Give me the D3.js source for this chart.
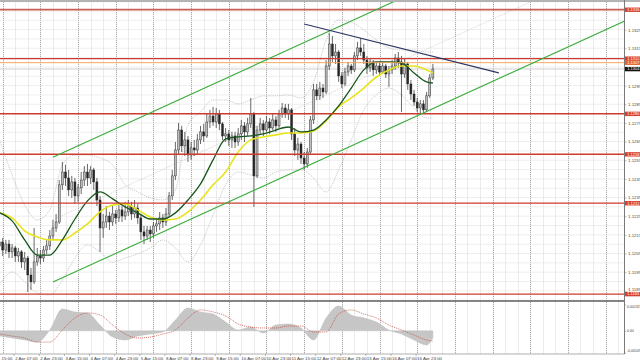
<!DOCTYPE html>
<html>
<head>
<meta charset="utf-8">
<script src="https://cdnjs.cloudflare.com/ajax/libs/d3/7.8.5/d3.min.js"></script>
<style>
  body { margin: 0; background: #fff; }
  #chart-area svg { display: block; font-family: "Liberation Sans", Arial, sans-serif; }
</style>
</head>
<body>
<div id="chart-area"></div>
<script>
// EURUSD, 2h candles. bar i sits at hour 2*i-2 (hour 0 = 2 Apr 00:00)
var firstOpen = 1.12090;

var closes = [1.12112,1.12069,1.12101,1.12059,1.12080,1.12037,1.12059,1.12005,1.12026,1.11935,
  1.11898,1.12005,1.12037,1.12026,1.12069,1.12091,1.12144,1.12187,1.12219,1.12418,
  1.12487,1.12455,1.12391,1.12434,1.12359,1.12402,1.12444,1.12487,1.12455,1.12498,
  1.12434,1.12337,1.12187,1.12219,1.12251,1.12219,1.12262,1.12241,1.12284,1.12251,
  1.12273,1.12305,1.12262,1.12294,1.12241,1.12166,1.12144,1.12176,1.12155,1.12198,
  1.12209,1.12241,1.12219,1.12262,1.12359,1.12466,1.12605,1.12712,1.12627,1.12659,
  1.12578,1.12616,1.12605,1.12659,1.12702,1.12680,1.12755,1.12787,1.12755,1.12798,
  1.12745,1.12680,1.12691,1.12659,1.12680,1.12648,1.12691,1.12734,1.12702,1.12745,
  1.12798,1.12466,1.12712,1.12745,1.12712,1.12755,1.12723,1.12766,1.12734,1.12798,
  1.12830,1.12798,1.12820,1.12691,1.12605,1.12637,1.12562,1.12530,1.12594,1.12766,
  1.12927,1.12895,1.12937,1.12916,1.13055,1.13173,1.13109,1.13130,1.13002,1.12959,
  1.13023,1.13055,1.13034,1.13109,1.13152,1.13130,1.13087,1.13045,1.13077,1.13034,
  1.13055,1.13023,1.13055,1.13012,1.13034,1.13055,1.13098,1.13077,1.13012,1.13066,
  1.12959,1.12905,1.12862,1.12830,1.12852,1.12820,1.12895,1.12991,1.13039];

var highs = [1.12166,1.12134,1.12123,1.12123,1.12101,1.12091,1.12080,1.12069,1.12059,1.12037,
  1.11973,1.12187,1.12080,1.12069,1.12091,1.12123,1.12176,1.12230,1.12262,1.12444,
  1.12541,1.12525,1.12498,1.12466,1.12455,1.12423,1.12487,1.12519,1.12530,1.12519,
  1.12509,1.12455,1.12359,1.12262,1.12305,1.12273,1.12305,1.12284,1.12316,1.12305,
  1.12327,1.12337,1.12327,1.12337,1.12316,1.12262,1.12198,1.12198,1.12198,1.12219,
  1.12241,1.12273,1.12262,1.12294,1.12380,1.12498,1.12648,1.12750,1.12734,1.12702,
  1.12680,1.12648,1.12659,1.12691,1.12734,1.12745,1.12798,1.12820,1.12836,1.12830,
  1.12820,1.12755,1.12723,1.12712,1.12702,1.12702,1.12723,1.12766,1.12755,1.12777,
  1.12884,1.12809,1.12734,1.12777,1.12766,1.12787,1.12777,1.12798,1.12787,1.12820,
  1.12857,1.12852,1.12852,1.12830,1.12723,1.12670,1.12648,1.12594,1.12616,1.12787,
  1.12959,1.12959,1.12970,1.12959,1.13087,1.13232,1.13216,1.13173,1.13141,1.13023,
  1.13045,1.13077,1.13066,1.13130,1.13184,1.13205,1.13173,1.13109,1.13098,1.13087,
  1.13077,1.13077,1.13077,1.13066,1.13055,1.13087,1.13120,1.13130,1.13109,1.13098,
  1.13077,1.12980,1.12927,1.12884,1.12873,1.12873,1.12916,1.13012,1.13066];

var lows = [1.12069,1.12037,1.12048,1.12026,1.12026,1.12005,1.12005,1.11973,1.11962,1.11844,
  1.11855,1.11887,1.11984,1.11994,1.12005,1.12048,1.12069,1.12123,1.12166,1.12209,
  1.12391,1.12412,1.12359,1.12348,1.12316,1.12327,1.12369,1.12412,1.12412,1.12423,
  1.12391,1.12305,1.12059,1.12134,1.12187,1.12176,1.12198,1.12209,1.12219,1.12219,
  1.12230,1.12251,1.12230,1.12241,1.12209,1.12123,1.12101,1.12123,1.12112,1.12134,
  1.12166,1.12176,1.12187,1.12198,1.12251,1.12337,1.12444,1.12584,1.12594,1.12573,
  1.12541,1.12552,1.12573,1.12584,1.12637,1.12648,1.12670,1.12723,1.12734,1.12723,
  1.12712,1.12659,1.12648,1.12627,1.12616,1.12616,1.12627,1.12659,1.12648,1.12680,
  1.12723,1.12300,1.12455,1.12691,1.12680,1.12702,1.12691,1.12712,1.12702,1.12723,
  1.12777,1.12777,1.12766,1.12659,1.12573,1.12552,1.12530,1.12498,1.12509,1.12584,
  1.12745,1.12873,1.12873,1.12884,1.12905,1.13034,1.13077,1.13066,1.12970,1.12937,
  1.12948,1.13002,1.13012,1.13023,1.13087,1.13109,1.13066,1.13012,1.13023,1.13002,
  1.13012,1.13002,1.13012,1.12991,1.12943,1.13012,1.13034,1.13045,1.12809,1.12991,
  1.12927,1.12873,1.12841,1.12809,1.12803,1.12798,1.12809,1.12884,1.12980];

// indicator readings, taken every 4th bar
var sampleBars = [0,4,8,12,16,20,24,28,32,36,40,44,48,52,56,60,64,68,72,76,80,84,88,92,96,100,104,108,112,116,120,124,128,132,136,138];

var fastMA = [1.12268,1.12225,1.12123,1.12042,1.12042,1.12123,1.12235,1.12332,1.12380,1.12343,1.12300,1.12268,1.12235,1.12235,1.12268,1.12337,1.12423,1.12552,1.12664,1.12675,1.12680,1.12691,1.12712,1.12728,1.12702,1.12712,1.12766,1.12841,1.12937,1.13034,1.13077,1.13077,1.13071,1.13018,1.12970,1.12964];
var slowMA = [1.12268,1.12241,1.12171,1.12139,1.12123,1.12123,1.12160,1.12209,1.12273,1.12310,1.12316,1.12284,1.12246,1.12230,1.12235,1.12273,1.12337,1.12418,1.12487,1.12594,1.12659,1.12675,1.12686,1.12696,1.12696,1.12707,1.12761,1.12836,1.12884,1.12937,1.12996,1.13034,1.13055,1.13055,1.13034,1.13018];
var bbUpper = [1.12659,1.12471,1.12310,1.12230,1.12284,1.12525,1.12578,1.12578,1.12562,1.12525,1.12418,1.12380,1.12348,1.12337,1.12391,1.12739,1.12809,1.12873,1.12873,1.12852,1.12873,1.12895,1.12895,1.12900,1.12884,1.12970,1.13195,1.13302,1.13291,1.13248,1.13195,1.13152,1.13141,1.13141,1.13130,1.13130];
var bbLower = [1.11882,1.11951,1.11898,1.11839,1.11828,1.11909,1.12026,1.12096,1.12059,1.12005,1.12026,1.12048,1.12080,1.12123,1.12080,1.12005,1.12096,1.12257,1.12418,1.12487,1.12471,1.12455,1.12487,1.12498,1.12498,1.12455,1.12380,1.12498,1.12659,1.12820,1.12900,1.12937,1.12900,1.12830,1.12777,1.12777];
var macdHist = [-0.00026,-0.00036,-0.00046,-0.00056,0.00004,0.00109,0.00094,0.00089,0.00029,-0.00031,-0.00046,-0.00026,-0.00016,-0.00006,0.00054,0.00114,0.00094,0.00084,0.00044,0.00004,0.00019,-0.00011,0.00029,0.00034,0.00014,-0.00046,0.00064,0.00124,0.00079,0.00064,0.00044,0.00004,-0.00016,-0.00046,-0.00071,-0.00036];
var macdSignal = [-0.00016,-0.00026,-0.00036,-0.00056,-0.00056,0.00004,0.00064,0.00089,0.00079,0.00029,-0.00016,-0.00036,-0.00031,-0.00016,0.00004,0.00064,0.00104,0.00094,0.00074,0.00034,0.00019,0.00014,0.00014,0.00024,0.00024,-0.00006,-0.00006,0.00084,0.00104,0.00084,0.00064,0.00029,0.00004,-0.00021,-0.00046,-0.00051];

// time axis: first label at hour -9, then every 16 hours
var timeLabels = ["1 Apr 15:00","2 Apr 07:00","2 Apr 23:00","3 Apr 15:00","4 Apr 07:00","4 Apr 23:00",
  "5 Apr 15:00","8 Apr 07:00","8 Apr 23:00","9 Apr 15:00","10 Apr 07:00","10 Apr 23:00",
  "11 Apr 15:00","12 Apr 07:00","12 Apr 23:00","15 Apr 15:00","16 Apr 07:00","16 Apr 23:00"];

// 1.1305 sits under the bid tag, so it is not listed
var priceTicks = [1.1185,1.1195,1.1205,1.1215,1.1225,1.1235,1.1245,1.1255,1.1265,1.1275,1.1285,1.1295,1.1315,1.1325];
var macdTicks = [0.00132, 0, -0.00109];
var macdTickText = ["0.00132", "0.00", "-0.00109"];

// horizontal levels drawn on the chart
var levelPrices = [1.13357, 1.13095, 1.12799, 1.12582, 1.12320, 1.11833];
var levelText = ["1.1336", "1.1310", "1.1280", "1.1258", "1.1232", "1.1183"];
var pivotPrice = 1.13073, pivotText = "1.1307";
var bidPrice = 1.13039, bidText = "1.1304";

// trendlines as [bar, price] pairs
var channelUpper = [[17, 1.12566], [140, 1.13511]];
var channelLower = [[17, 1.11897], [200, 1.13303]];
var channelMid   = [[17, 1.12232], [200, 1.13636]];
var resistLine   = [[97, 1.13280], [159, 1.13018]];


candleChart = function(_parentElement){
    this.parentElement = _parentElement;
    this.initVis();
}

candleChart.prototype.initVis = function(){
    var vis = this;

    vis.width = 640;
    vis.height = 360;
    vis.plotRight = 624.5;
    vis.mainTop = 2;
    vis.mainBottom = 300;
    vis.macdBottom = 354;

    vis.svg = d3.select("#" + vis.parentElement).append("svg")
        .attr("width", vis.width)
        .attr("height", vis.height);

    // hours -> px (about 1.57px per hour)
    vis.x = d3.scaleLinear().domain([0, 100]).range([2.7, 159.7]);
    vis.y = d3.scaleLinear().domain([1.11801, 1.13398]).range([vis.mainBottom, vis.mainTop]);
    vis.yMacd = d3.scaleLinear().domain([-0.00109, 0.00132]).range([352.7, 304.3]);

    var barX = function(i){ return vis.x(2 * i - 2); };

    vis.svg.append("defs").append("clipPath").attr("id", "clip-main")
        .append("rect").attr("x", 0).attr("y", vis.mainTop)
        .attr("width", vis.plotRight).attr("height", vis.mainBottom - vis.mainTop);
    vis.svg.select("defs").append("clipPath").attr("id", "clip-macd")
        .append("rect").attr("x", 0).attr("y", 302)
        .attr("width", vis.plotRight).attr("height", vis.macdBottom - 302);

    // grid
    var grid = vis.svg.append("g");
    var hMax = vis.x.invert(vis.plotRight);
    grid.selectAll(".vgrid").data(d3.range(-8, hMax, 8)).enter().append("line")
        .attr("x1", function(d){ return Math.round(vis.x(d)) + 0.5; })
        .attr("x2", function(d){ return Math.round(vis.x(d)) + 0.5; })
        .attr("y1", vis.mainTop).attr("y2", vis.macdBottom)
        .attr("stroke", "#e3e3e3").attr("stroke-width", 0.7);
    grid.selectAll(".dgrid").data(d3.range(0, hMax, 24)).enter().append("line")
        .attr("x1", function(d){ return Math.round(vis.x(d)) + 0.5; })
        .attr("x2", function(d){ return Math.round(vis.x(d)) + 0.5; })
        .attr("y1", vis.mainTop).attr("y2", vis.macdBottom)
        .attr("stroke", "#9a9a9a").attr("stroke-width", 0.8)
        .attr("stroke-dasharray", "1,1");
    grid.selectAll(".hgrid").data(d3.range(1.1180, 1.1341, 0.0005)).enter().append("line")
        .attr("x1", 0).attr("x2", vis.plotRight)
        .attr("y1", function(d){ return vis.y(d); })
        .attr("y2", function(d){ return vis.y(d); })
        .attr("stroke", "#e6e6e6").attr("stroke-width", 0.7);

    var main = vis.svg.append("g").attr("clip-path", "url(#clip-main)");

    // bid line
    main.append("line")
        .attr("x1", 0).attr("x2", vis.plotRight)
        .attr("y1", vis.y(bidPrice)).attr("y2", vis.y(bidPrice))
        .attr("stroke", "#cfcfcf").attr("stroke-width", 1);

    // bollinger bands
    var sampleLine = d3.line()
        .x(function(d, k){ return barX(sampleBars[k]); })
        .y(function(d){ return vis.y(d); })
        .curve(d3.curveMonotoneX);

    [bbUpper, bbLower].forEach(function(band){
        main.append("path").attr("d", sampleLine(band))
            .attr("fill", "none").attr("stroke", "#a8a8a8")
            .attr("stroke-width", 0.6).attr("stroke-dasharray", "1.2,1");
    });

    // channel midline (dotted, light)
    var trend = d3.line()
        .x(function(d){ return barX(d[0]); })
        .y(function(d){ return vis.y(d[1]); });

    main.append("path").attr("d", trend(channelMid))
        .attr("fill", "none").attr("stroke", "#b9b9b9")
        .attr("stroke-width", 0.6).attr("stroke-dasharray", "1,1");

    // candles
    var bars = closes.map(function(c, i){
        var o = i === 0 ? firstOpen : closes[i - 1];
        return {i: i, o: o, c: c,
            h: Math.max(highs[i], o, c), l: Math.min(lows[i], o, c)};
    });

    var candle = main.append("g").selectAll("g")
        .data(bars).enter().append("g");

    candle.append("line")
        .attr("x1", function(d){ return barX(d.i); })
        .attr("x2", function(d){ return barX(d.i); })
        .attr("y1", function(d){ return vis.y(d.h); })
        .attr("y2", function(d){ return vis.y(d.l); })
        .attr("stroke", "#2a2a2a").attr("stroke-width", 0.7);

    candle.append("rect")
        .attr("x", function(d){ return barX(d.i) - 1; })
        .attr("width", 2)
        .attr("y", function(d){ return vis.y(Math.max(d.o, d.c)); })
        .attr("height", function(d){ return Math.max(0.7, Math.abs(vis.y(d.o) - vis.y(d.c))); })
        .attr("fill", function(d){ return d.c >= d.o ? "#bdbdbd" : "#262626"; })
        .attr("stroke", "#2a2a2a").attr("stroke-width", 0.45);

    // moving averages
    main.append("path").attr("d", sampleLine(slowMA))
        .attr("fill", "none").attr("stroke", "#e8e41c").attr("stroke-width", 1.6);
    main.append("path").attr("d", sampleLine(fastMA))
        .attr("fill", "none").attr("stroke", "#17561c").attr("stroke-width", 1.3);

    // horizontal levels
    main.selectAll(".level").data(levelPrices).enter().append("line")
        .attr("x1", 0).attr("x2", vis.plotRight)
        .attr("y1", function(d){ return vis.y(d); })
        .attr("y2", function(d){ return vis.y(d); })
        .attr("stroke", function(d, k){ return k === 0 ? "#c9605a" : "#cc3b30"; })
        .attr("stroke-width", function(d, k){ return k === 0 ? 1.8 : 1.3; });
    main.append("line")
        .attr("x1", 0).attr("x2", vis.plotRight)
        .attr("y1", vis.y(pivotPrice)).attr("y2", vis.y(pivotPrice))
        .attr("stroke", "#f2a24a").attr("stroke-width", 0.9);

    // channel + resistance
    [channelUpper, channelLower].forEach(function(seg){
        main.append("path").attr("d", trend(seg))
            .attr("fill", "none").attr("stroke", "#3aad3a").attr("stroke-width", 1.1);
    });
    main.append("path").attr("d", trend(resistLine))
        .attr("fill", "none").attr("stroke", "#2f3563").attr("stroke-width", 1.1);

    // MACD pane
    var macd = vis.svg.append("g").attr("clip-path", "url(#clip-macd)");
    var histArea = d3.area()
        .x(function(d, k){ return barX(sampleBars[k]); })
        .y0(vis.yMacd(0))
        .y1(function(d){ return vis.yMacd(d); })
        .curve(d3.curveMonotoneX);
    macd.append("path").attr("d", histArea(macdHist))
        .attr("fill", "#c6c6c6").attr("stroke", "#b9b9b9").attr("stroke-width", 0.4);

    var sigLine = d3.line()
        .x(function(d, k){ return barX(sampleBars[k]); })
        .y(function(d){ return vis.yMacd(d); })
        .curve(d3.curveMonotoneX);
    macd.append("path").attr("d", sigLine(macdSignal))
        .attr("fill", "none").attr("stroke", "#c0392b")
        .attr("stroke-width", 0.7).attr("stroke-dasharray", "1,1");

    // frame
    vis.svg.append("line").attr("x1", 0).attr("x2", vis.width).attr("y1", 1).attr("y2", 1)
        .attr("stroke", "#9c9c9c").attr("stroke-width", 1.5);
    vis.svg.append("line").attr("x1", 0).attr("x2", vis.plotRight).attr("y1", 301).attr("y2", 301)
        .attr("stroke", "#5e5e5e").attr("stroke-width", 1.4);
    vis.svg.append("line").attr("x1", 0).attr("x2", vis.plotRight)
        .attr("y1", vis.macdBottom).attr("y2", vis.macdBottom)
        .attr("stroke", "#8c8c8c").attr("stroke-width", 0.7);

    // price axis
    var yAxis = d3.axisRight(vis.y).tickValues(priceTicks)
        .tickFormat(d3.format(".4f")).tickSize(2).tickPadding(1.5);
    var yAxisG = vis.svg.append("g")
        .attr("transform", "translate(" + vis.plotRight + ",0)")
        .call(yAxis);

    var macdAxis = d3.axisRight(vis.yMacd).tickValues(macdTicks)
        .tickFormat(function(d, k){ return macdTickText[k]; }).tickSize(1.5).tickPadding(0.8);
    var macdAxisG = vis.svg.append("g")
        .attr("transform", "translate(" + vis.plotRight + ",0)")
        .call(macdAxis);

    [yAxisG, macdAxisG].forEach(function(g){
        g.select(".domain").remove();
        g.selectAll("line").attr("stroke", "#777").attr("stroke-width", 0.5);
        g.selectAll("text").attr("font-size", "4.4px").attr("fill", "#444");
    });
    // lowest price label sits just above the 1.1183 tag
    yAxisG.selectAll(".tick").filter(function(d){ return d < 1.119; })
        .select("text").attr("dy", "-0.05em");
    macdAxisG.selectAll("text").attr("font-size", "3.6px");
    macdAxisG.selectAll(".tick").filter(function(d){ return d > 0; })
        .select("text").attr("dy", "0.9em");
    macdAxisG.selectAll(".tick").filter(function(d){ return d < 0; })
        .select("text").attr("dy", "-0.2em");

    vis.svg.append("line").attr("x1", vis.plotRight).attr("x2", vis.plotRight)
        .attr("y1", 0).attr("y2", vis.macdBottom)
        .attr("stroke", "#7a7a7a").attr("stroke-width", 1);

    // time axis
    var labelHours = timeLabels.map(function(t, k){ return -9 + 16 * k; });
    var xAxis = d3.axisBottom(vis.x).tickValues(labelHours)
        .tickFormat(function(d, k){ return timeLabels[k]; }).tickSize(2).tickPadding(0.5);
    var xAxisG = vis.svg.append("g")
        .attr("transform", "translate(0," + vis.macdBottom + ")")
        .call(xAxis);
    xAxisG.select(".domain").remove();
    xAxisG.selectAll("line").attr("stroke", "#777").attr("stroke-width", 0.5);
    xAxisG.selectAll("text").attr("font-size", "4.4px").attr("fill", "#444")
        .attr("text-anchor", "start").attr("dx", "1px");

    // price tags on the right edge
    var tags = levelPrices.map(function(p, k){ return {p: p, t: levelText[k], fill: "#d8412f"}; });
    tags.push({p: pivotPrice, t: pivotText, fill: "#e0622f"});
    tags.push({p: bidPrice, t: bidText, fill: "#111"});

    var tag = vis.svg.append("g").selectAll("g").data(tags).enter().append("g")
        .attr("transform", function(d){ return "translate(" + (vis.plotRight + 0.5) + "," + vis.y(d.p) + ")"; });
    tag.append("rect").attr("x", 0).attr("y", -2.1).attr("width", 15.5).attr("height", 4.4)
        .attr("fill", function(d){ return d.fill; });
    tag.append("text").attr("x", 2.2).attr("y", 1.4)
        .attr("font-size", "4px").attr("fill", "#fff")
        .text(function(d){ return d.t; });
}

new candleChart("chart-area");
</script>
</body>
</html>
